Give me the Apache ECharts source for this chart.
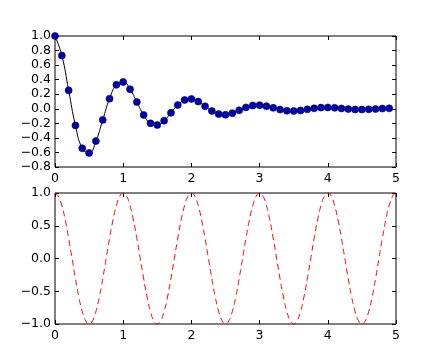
<!DOCTYPE html>
<html><head><meta charset="utf-8">
<script src="https://cdn.jsdelivr.net/npm/echarts@6/dist/echarts.min.js"></script>
<style>html,body{margin:0;padding:0;background:#fff}#c{width:440px;height:360px}</style>
</head><body><div id="c"></div>
<script>
// top: damped oscillation samples (t, value)
const t1 = [0,0.1,0.2,0.3,0.4,0.5,0.6,0.7,0.8,0.9,1.0,1.1,1.2,1.3,1.4,1.5,1.6,1.7,1.8,1.9,2.0,2.1,2.2,2.3,2.4,2.5,2.6,2.7,2.8,2.9,3.0,3.1,3.2,3.3,3.4,3.5,3.6,3.7,3.8,3.9,4.0,4.1,4.2,4.3,4.4,4.5,4.6,4.7,4.8,4.9];
const y1 = [1.0,0.732,0.253,-0.229,-0.542,-0.607,-0.444,-0.153,0.139,0.329,0.368,0.269,0.093,-0.084,-0.200,-0.223,-0.163,-0.056,0.051,0.121,0.135,0.099,0.034,-0.031,-0.073,-0.082,-0.060,-0.021,0.019,0.045,0.050,0.036,0.013,-0.011,-0.027,-0.030,-0.022,-0.008,0.007,0.016,0.018,0.013,0.005,-0.004,-0.010,-0.011,-0.008,-0.003,0.003,0.006];
// bottom: cosine samples
const t2 = [0,0.05,0.1,0.15,0.2,0.25,0.3,0.35,0.4,0.45,0.5,0.55,0.6,0.65,0.7,0.75,0.8,0.85,0.9,0.95,
1.0,1.05,1.1,1.15,1.2,1.25,1.3,1.35,1.4,1.45,1.5,1.55,1.6,1.65,1.7,1.75,1.8,1.85,1.9,1.95,
2.0,2.05,2.1,2.15,2.2,2.25,2.3,2.35,2.4,2.45,2.5,2.55,2.6,2.65,2.7,2.75,2.8,2.85,2.9,2.95,
3.0,3.05,3.1,3.15,3.2,3.25,3.3,3.35,3.4,3.45,3.5,3.55,3.6,3.65,3.7,3.75,3.8,3.85,3.9,3.95,
4.0,4.05,4.1,4.15,4.2,4.25,4.3,4.35,4.4,4.45,4.5,4.55,4.6,4.65,4.7,4.75,4.8,4.85,4.9,4.95,4.98];
const y2 = [1,0.951,0.809,0.588,0.309,0,-0.309,-0.588,-0.809,-0.951,-1,-0.951,-0.809,-0.588,-0.309,0,0.309,0.588,0.809,0.951,
1,0.951,0.809,0.588,0.309,0,-0.309,-0.588,-0.809,-0.951,-1,-0.951,-0.809,-0.588,-0.309,0,0.309,0.588,0.809,0.951,
1,0.951,0.809,0.588,0.309,0,-0.309,-0.588,-0.809,-0.951,-1,-0.951,-0.809,-0.588,-0.309,0,0.309,0.588,0.809,0.951,
1,0.951,0.809,0.588,0.309,0,-0.309,-0.588,-0.809,-0.951,-1,-0.951,-0.809,-0.588,-0.309,0,0.309,0.588,0.809,0.951,
1,0.951,0.809,0.588,0.309,0,-0.309,-0.588,-0.809,-0.951,-1,-0.951,-0.809,-0.588,-0.309,0,0.309,0.588,0.809,0.951,0.992];
const xTicks = [0,1,2,3,4,5];

const font = {fontFamily:'DejaVu Sans', fontSize:12.5, color:'#000'};
const fmtY = v => (Math.abs(v)<1e-9?0:v).toFixed(1).replace('-', '\u2212');
const tick = {show:true, inside:true, length:4, lineStyle:{color:'#000', width:1}};
const noLine = {show:false, onZero:false};

function xAx(g, labels, pos){
  return {type:'value', gridIndex:g, min:0, max:5, interval:1, position:pos,
    axisLine:noLine, axisTick:tick, splitLine:{show:false},
    axisLabel: labels ? Object.assign({show:true, margin:5, formatter:v=>String(v)}, font) : {show:false}};
}
function yAx(g, min, max, iv, labels, pos){
  return {type:'value', gridIndex:g, min:min, max:max, interval:iv, position:pos,
    axisLine:noLine, axisTick:tick, splitLine:{show:false},
    axisLabel: labels ? Object.assign({show:true, margin:4, formatter:fmtY}, font) : {show:false}};
}

const chart = echarts.init(document.getElementById('c'), null, {renderer:'canvas'});
chart.setOption({
  animation:false,
  backgroundColor:'#fff',
  grid:[
    {left:55, top:36, width:341, height:131, show:true, borderColor:'#000', borderWidth:1, backgroundColor:'transparent'},
    {left:55, top:193, width:341, height:131, show:true, borderColor:'#000', borderWidth:1, backgroundColor:'transparent'}
  ],
  xAxis:[xAx(0,true,'bottom'), xAx(0,false,'top'), xAx(1,true,'bottom'), xAx(1,false,'top')],
  yAxis:[yAx(0,-0.8,1.0,0.2,true,'left'), yAx(0,-0.8,1.0,0.2,false,'right'),
         yAx(1,-1.0,1.0,0.5,true,'left'), yAx(1,-1.0,1.0,0.5,false,'right')],
  series:[
    {type:'line', xAxisIndex:0, yAxisIndex:0, data:t1.map((t,i)=>[t,y1[i]]), smooth:0.5,
     showSymbol:false, symbol:'none', lineStyle:{color:'#000', width:1}, z:2},
    {type:'scatter', xAxisIndex:0, yAxisIndex:0, data:t1.map((t,i)=>[t,y1[i]]), symbolSize:7,
     itemStyle:{color:'#0000b0', borderColor:'#000050', borderWidth:0.6, opacity:1}, z:3},
    {type:'line', xAxisIndex:2, yAxisIndex:2, data:t2.map((t,i)=>[t,y2[i]]), smooth:0.5,
     showSymbol:false, symbol:'none', lineStyle:{color:'#ff0000', width:1, type:[6,4]}, z:2}
  ]
});
</script></body></html>
